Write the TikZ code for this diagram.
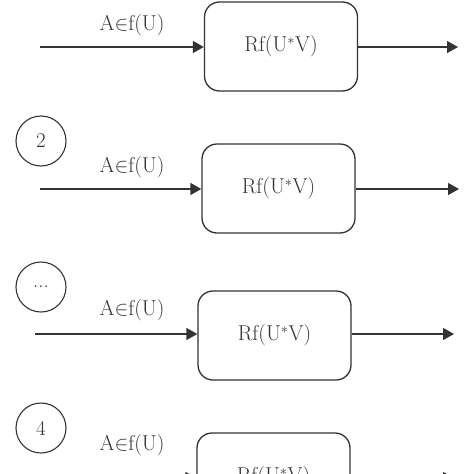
\documentclass[tikz,border=0pt]{standalone}
\usetikzlibrary{arrows.meta}
\definecolor{ink}{HTML}{333333}
\tikzset{
  blk/.style={draw=ink, line width=1.3pt, rounded corners=15pt, minimum width=153pt, minimum height=89pt, text=ink, font=\fontsize{21.5}{24}\selectfont, inner sep=0pt},
  num/.style={draw=ink, line width=1.1pt, circle, minimum size=50pt, inner sep=0pt, text=ink, font=\fontsize{21}{23}\selectfont},
  lbl/.style={text=ink, font=\fontsize{21.5}{24}\selectfont, inner sep=0pt},
  arr/.style={draw=ink, line width=1.3pt, -{Triangle[length=11pt,width=12pt]}}
}
\begin{document}
\begin{tikzpicture}[x=1pt,y=-1pt]
\useasboundingbox (0,0) rectangle (474,474);
\clip (0,0) rectangle (474,474);
% row 1
\node[blk] (b1) at (281,46.5) {Rf(U$^*$V)};
\node[lbl] (l1) at (132,25) {A$\in$f(U)};
\coordinate (s1) at (40,47);
\coordinate (e1) at (458,47);
\draw[arr] (s1) -- (s1 -| b1.west);
\draw[arr] (b1.east |- e1) -- (e1);
% row 2
\node[num] (c2) at (41,141) {2};
\node[blk] (b2) at (278.5,188.5) {Rf(U$^*$V)};
\node[lbl] (l2) at (132,167) {A$\in$f(U)};
\coordinate (s2) at (40,189);
\coordinate (e2) at (459,189);
\draw[arr] (s2) -- (s2 -| b2.west);
\draw[arr] (b2.east |- e2) -- (e2);
% row 3
\node[num] (c3) at (41,287) {...};
\node[blk] (b3) at (274.5,335.5) {Rf(U$^*$V)};
\node[lbl] (l3) at (132,310) {A$\in$f(U)};
\coordinate (s3) at (35,334);
\coordinate (e3) at (454,334);
\draw[arr] (s3) -- (s3 -| b3.west);
\draw[arr] (b3.east |- e3) -- (e3);
% row 4
\node[num] (c4) at (41,428) {4};
\node[blk] (b4) at (273.5,477.5) {Rf(U$^*$V)};
\node[lbl] (l4) at (132,445) {A$\in$f(U)};
\coordinate (s4) at (35,478);
\coordinate (e4) at (454,478);
\draw[arr] (s4) -- (s4 -| b4.west);
\draw[arr] (b4.east |- e4) -- (e4);
\end{tikzpicture}
\end{document}
